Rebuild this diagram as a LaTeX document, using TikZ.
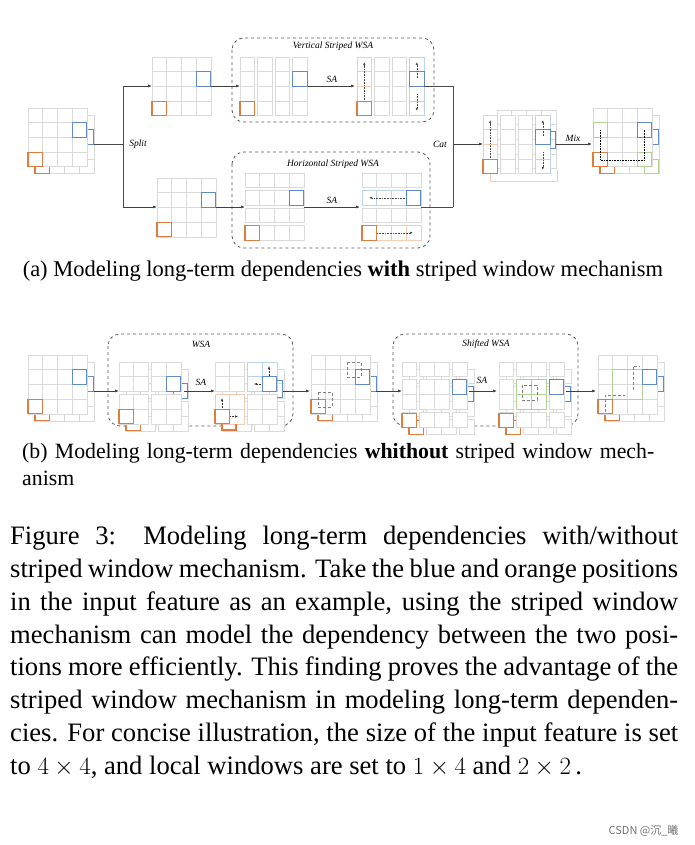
\documentclass[tikz,border=0pt]{standalone}
\usepackage{fontspec}
\setmainfont{Liberation Serif}
\newfontfamily\cjk{Noto Sans CJK SC}
\usetikzlibrary{arrows.meta}
\definecolor{gc}{RGB}{218,218,218}
\definecolor{bl}{RGB}{95,140,200}
\definecolor{lbl}{RGB}{190,210,235}
\definecolor{orc}{RGB}{225,125,60}
\definecolor{lor}{RGB}{245,205,180}
\definecolor{grn}{RGB}{175,210,150}
\def\cs{14.7}
\tikzset{
 gcl/.style={draw=gc,line width=0.6pt},
 hb/.style={draw=bl,line width=1pt},
 ho/.style={draw=orc,line width=1.1pt},
 hg/.style={draw=grn,line width=0.8pt},
 arr/.style={draw=black!75,line width=0.7pt,-{Latex[length=4pt,width=3pt]}},
 ln/.style={draw=black!70,line width=0.7pt},
 dot/.style={densely dotted,line width=0.6pt,-{Latex[length=3pt,width=2.5pt]}},
 box/.style={draw=black!65,dashed,line width=0.8pt,rounded corners=12pt},
 lab/.style={font=\itshape\fontsize{9.5}{10}\selectfont,inner sep=1pt},
}
\newcommand\ggrid[3][]{\foreach \i in {0,...,3}{\foreach \j in {0,...,3}{\draw[gcl,fill=white,#1] ({#2+\i*\cs},{#3+\j*\cs}) rectangle ++(\cs,\cs);}}}
\newcommand\hcell[4][]{\draw[#4,#1] ({#2},{#3}) rectangle ++(\cs,\cs);}
\newcommand\wgrid[3][]{\foreach \i in {0,...,3}{\foreach \j in {0,...,3}{\draw[gcl,fill=white,#1] ({#2+\i*\cs+(\i>1)*3},{#3+\j*\cs+(\j>1)*3}) rectangle ++(\cs,\cs);}}}
\newcommand\sgrid[3][]{\foreach \i in {0,...,3}{\foreach \j in {0,...,3}{\draw[gcl,fill=white,#1] ({#2+\i*\cs+(\i>0)*3+(\i>2)*3},{#3+\j*\cs+(\j>0)*3+(\j>2)*3}) rectangle ++(\cs,\cs);}}}
\begin{document}
\begin{tikzpicture}[x=1pt,y=-1pt]
\useasboundingbox[fill=white] (0,0) rectangle (695,845);
% ================= (a) =================
\ggrid{35}{115}\hcell{79.1}{129.7}{hb}\hcell{35}{159.1}{ho}
\ggrid{28}{108}\hcell{72.1}{122.7}{hb}\hcell{28}{152.1}{ho}
\coordinate (in) at (94,144); \coordinate (sp) at (123,144);
\coordinate (spt) at (123,86); \coordinate (spb) at (123,207);
\draw[ln] (in) -- (sp); \draw[ln] (spt) -- (spb);
\node[lab] (split) at (138,144) {Split};
\ggrid{152}{57}\hcell{196.1}{71.7}{hb}\hcell{152}{101.1}{ho}
\ggrid{157}{178}\hcell{201.1}{192.7}{hb}\hcell{157}{222.1}{ho}
\coordinate (g2) at (152,86); \coordinate (g3) at (157,207);
\draw[arr] (spt) -- (g2); \draw[arr] (spb) -- (g3);
\draw[box] (232,38) rectangle (434,122);
\node[lab] (vt) at (333,46) {Vertical Striped WSA};
\foreach \k in {0,...,3}{\foreach \j in {0,...,3}{\draw[gcl] ({240+\k*17.5},{57+\j*\cs}) rectangle ++(\cs,\cs);}}
\hcell{292.5}{71.7}{hb}\hcell{240}{101.1}{ho}
\coordinate (g2o) at (211,86); \coordinate (vi) at (240,86);
\draw[arr] (g2o) -- (vi);
\coordinate (v1) at (307.5,86); \coordinate (v2) at (355,86);
\draw[arr] (v1) -- (v2); \node[lab] (sa1) at (332,79) {SA};
\foreach \k in {1,2}{\foreach \j in {0,...,3}{\draw[gcl] ({357+\k*17.5},{57+\j*\cs}) rectangle ++(\cs,\cs);}}
\foreach \j in {0,...,3}{\draw[draw=lor,line width=0.6pt] (357,{57+\j*\cs}) rectangle ++(\cs,\cs);\draw[draw=lbl,line width=0.6pt] (409.5,{57+\j*\cs}) rectangle ++(\cs,\cs);}
\hcell{357}{101.1}{ho}
\hcell{409.5}{71.7}{hb}
\draw[dot,black!70] (364.3,100) -- (364.3,62);
\draw[dot,black!70] (416.8,78) -- (416.8,62); \draw[dot,black!70] (416.8,94) -- (416.8,111);
\coordinate (vo) at (424,86); \coordinate (ct) at (453,86); \coordinate (cb) at (453,207); \coordinate (cm) at (453,144);
\draw[ln] (vo) -- (ct); \draw[ln] (ct) -- (cb);
\draw[box] (232,152) rectangle (430,248);
\node[lab] (ht) at (333,164) {Horizontal Striped WSA};
\foreach \i in {0,...,3}{\foreach \j in {0,...,3}{\draw[gcl] ({245+\i*\cs},{173+\j*17.5}) rectangle ++(\cs,\cs);}}
\hcell{289.1}{190.5}{hb}\hcell{245}{225.5}{ho}
\coordinate (g3o) at (216,207); \coordinate (hi) at (245,207);
\draw[arr] (g3o) -- (hi);
\coordinate (h1) at (304,207); \coordinate (h2) at (360,207);
\draw[arr] (h1) -- (h2); \node[lab] (sa2) at (332,200) {SA};
\foreach \i in {0,...,3}{\draw[gcl] ({362+\i*\cs},173) rectangle ++(\cs,\cs);\draw[gcl] ({362+\i*\cs},208) rectangle ++(\cs,\cs);
 \draw[draw=lbl,line width=0.6pt] ({362+\i*\cs},190.5) rectangle ++(\cs,\cs);\draw[draw=lor,line width=0.6pt] ({362+\i*\cs},225.5) rectangle ++(\cs,\cs);}
\hcell{406.1}{190.5}{hb}\hcell{362}{225.5}{ho}
\draw[dot,black!70] (405,197.8) -- (369,197.8); \draw[dot,black!70] (377,232.8) -- (413,232.8);
\coordinate (hout) at (421,207); \draw[ln] (hout) -- (cb);
\node[lab] (cat) at (440,144) {Cat};
\ggrid[fill=none]{497}{110}
\foreach \k in {0,...,3}{\foreach \j in {0,...,3}{\draw[gcl,fill=white] ({483+\k*17.5},{115+\j*\cs}) rectangle ++(\cs,\cs);}}
\foreach \j in {0,...,3}{\draw[draw=lor,line width=0.6pt] (483,{115+\j*\cs}) rectangle ++(\cs,\cs);\draw[draw=lbl,line width=0.6pt] (535.5,{115+\j*\cs}) rectangle ++(\cs,\cs);}
\draw[draw=lor,line width=0.6pt] (490,174) -- (490,181) -- (557,181) -- (557,170);
\hcell{483}{159.1}{ho}
\hcell{535.5}{129.7}{hb}
\draw[hb] (550.2,132) -- (555,132) -- (555,149) -- (550.2,149);
\draw[dot,black!70] (490.3,158) -- (490.3,120); \draw[dot,black!70] (542.8,136) -- (542.8,120); \draw[dot,black!70] (542.8,152) -- (542.8,170);
\coordinate (co) at (483,144); \draw[arr] (cm) -- (co);
\coordinate (m1) at (556,144); \coordinate (m2) at (592,144);
\draw[arr] (m1) -- (m2); \node[lab] (mix) at (573,138) {Mix};
\ggrid{600}{115}\hcell{644.1}{129.7}{hb}\hcell{600}{159.1}{ho}\hcell{644.1}{159.1}{hg}
\ggrid{593}{108}\hcell{593}{122.7}{hg}\hcell{637.1}{152.1}{hg}\hcell{637.1}{122.7}{hb}\hcell{593}{152.1}{ho}
\draw[densely dotted,line width=0.6pt] (600.3,130) -- (600.3,160) -- (644.4,160) -- (644.4,130);
\node[font=\fontsize{22.5}{26}\selectfont] (capa) at (343,271) {(a) Modeling long-term dependencies \textbf{with} striped window mechanism};
% ================= (b) =================
\ggrid{35}{362}\hcell{79.1}{376.7}{hb}\hcell{35}{406.1}{ho}
\ggrid{28}{355}\hcell{72.1}{369.7}{hb}\hcell{28}{399.1}{ho}
\draw[box] (108,334) rectangle (293,426);
\node[lab] (wt) at (201,344) {WSA};
\wgrid{126}{369}\hcell{173.1}{383.7}{hb}\hcell{126}{416.1}{ho}
\wgrid{119}{362}
\hcell{166.1}{376.7}{hb}
\hcell{119}{409.1}{ho}
\coordinate (bi) at (94,391); \coordinate (bw) at (119,391);
\draw[arr] (bi) -- (bw);
\coordinate (bs1) at (184,391); \coordinate (bs2) at (215,391);
\draw[arr] (bs1) -- (bs2); \node[lab] (sa3) at (201,382) {SA};
\wgrid{222}{369}
\wgrid{215}{362}
\foreach \i in {2,3}{\foreach \j in {0,1}{\draw[draw=lbl,line width=0.6pt] ({215+\i*\cs+3},{362+\j*\cs}) rectangle ++(\cs,\cs);}}
\foreach \i in {0,1}{\foreach \j in {2,3}{\draw[draw=lor,line width=0.6pt] ({215+\i*\cs},{362+\j*\cs+3}) rectangle ++(\cs,\cs);}}
\hcell{262.1}{376.7}{hb}
\hcell{215}{409.1}{ho}
\draw[hb] (276.8,380) -- (282,380) -- (282,397) -- (276.8,397);
\draw[ho] (222,423.8) -- (222,430) -- (236,430) -- (236,423.8);
\draw[dot,black!80] (269,376) -- (269,366); \draw[dot,black!80] (261,384) -- (254,384);
\draw[dot,black!80] (222,408) -- (222,398); \draw[dot,black!80] (230,416.5) -- (238,416.5);
\coordinate (bw1) at (283,391); \coordinate (bm) at (310,391);
\draw[arr] (bw1) -- (bm);
\ggrid{318}{362}\hcell{362.1}{376.7}{hb}\hcell{318}{406.1}{ho}
\ggrid{311}{355}
\hcell{355.1}{369.7}{hb}
\hcell{311}{399.1}{ho}
\draw[densely dashed,draw=black!50,line width=0.5pt] (347,362) rectangle ++(14,15);
\draw[densely dashed,draw=black!50,line width=0.5pt] (318,392) rectangle ++(14,15);
\coordinate (bm1) at (376,391); \coordinate (bsw) at (402,391);
\draw[arr] (bm1) -- (bsw);
\draw[box] (393,334) rectangle (578,426);
\node[lab] (st) at (486,344) {Shifted WSA};
\sgrid{409}{369}\hcell{459.1}{386.7}{hb}\hcell{409}{420.1}{ho}
\sgrid{402}{362}
\hcell{452.1}{379.7}{hb}
\hcell{402}{413.1}{ho}
\coordinate (bs3) at (469,391); \coordinate (bs4) at (497,391);
\draw[arr] (bs3) -- (bs4); \node[lab] (sa4) at (482,380) {SA};
\sgrid{506}{369}\hcell{556.1}{386.7}{hb}\hcell{506}{420.1}{ho}
\sgrid{499}{362}
\foreach \i in {1,2}{\foreach \j in {1,2}{\draw[hg] ({499+\i*\cs+3},{362+\j*\cs+3}) rectangle ++(\cs,\cs);}}
\hcell{549.1}{379.7}{hb}
\hcell{499}{413.1}{ho}
\draw[densely dashed,draw=black!50,line width=0.5pt] (522,385) rectangle ++(15,15);
\coordinate (bs5) at (566,391); \coordinate (bf) at (596,391);
\draw[arr] (bs5) -- (bf);
\ggrid{605}{362}\hcell{649.1}{376.7}{hb}\hcell{605}{406.1}{ho}
\ggrid{598}{355}
\draw[hg] (612.7,369.7) rectangle ++(29.4,29.4);
\hcell{642.1}{369.7}{hb}
\hcell{598}{399.1}{ho}
\draw[densely dashed,draw=black!50,line width=0.5pt] (633,390) -- (633,366) -- (640,366);
\draw[densely dashed,draw=black!50,line width=0.5pt] (605,412) -- (605,395) -- (625,395);
\node[font=\fontsize{21.8}{27}\selectfont,anchor=north west,text width=672,align=left,inner sep=0] (capb) at (22,443) {(b) Modeling long-term dependencies \textbf{whithout} striped window mech-\\anism};
% ================= figure caption =================
\node[font=\fontsize{26.6}{32.8}\selectfont,anchor=north west,text width=668,align=justify,inner sep=0] (fig) at (10,526) {Figure 3: Modeling long-term dependencies with/without striped window mechanism. Take the blue and orange positions in the input feature as an example, using the striped window mechanism can model the dependency between the two positions more efficiently. This finding proves the advantage of the striped window mechanism in modeling long-term dependencies. For concise illustration, the size of the input feature is set to $4\times4$, and local windows are set to $1\times4$ and $2\times2$\,.};
\node[font=\cjk\fontsize{11}{12}\selectfont,text=black!55,anchor=east] (wm) at (682,831) {CSDN @沉\_曦};
\end{tikzpicture}
\end{document}
